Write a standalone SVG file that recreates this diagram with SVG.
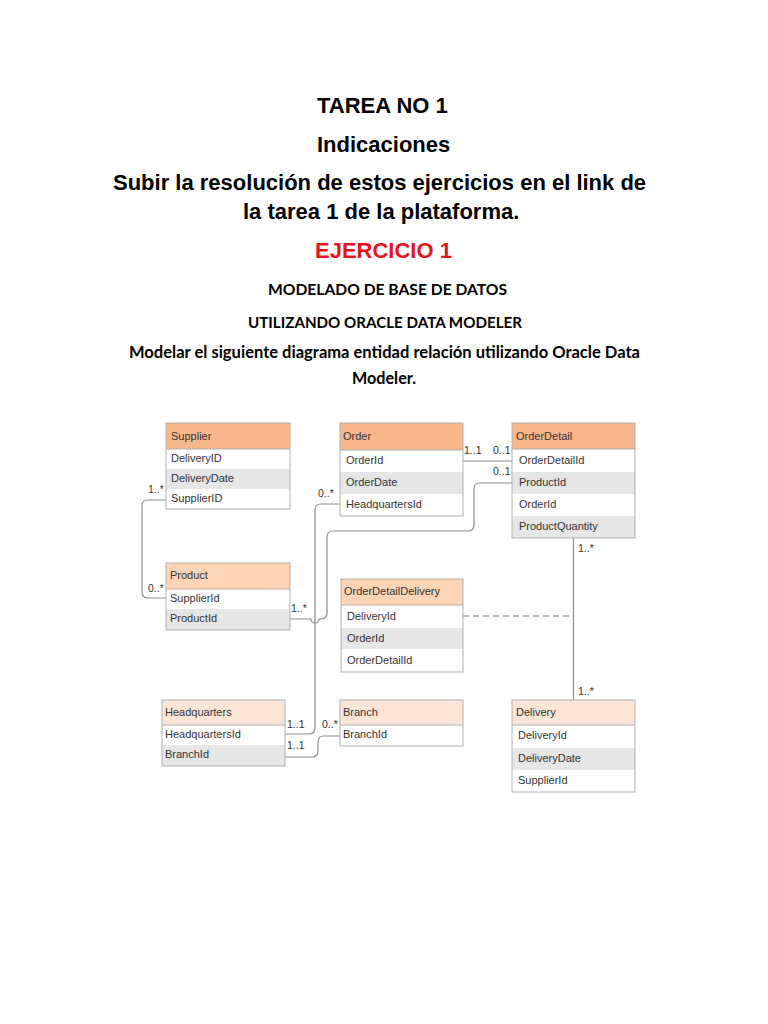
<svg xmlns="http://www.w3.org/2000/svg" width="768" height="1024" viewBox="0 0 768 1024">
<style>
.t1{font-family:"Liberation Sans",Arial,sans-serif;font-weight:bold;font-size:22px;fill:#000}
.red{fill:#E3151D}
.t2{font-family:Lato,"Open Sans",sans-serif;font-weight:bold;font-size:16px;fill:#000}
.t3{font-family:Lato,"Open Sans",sans-serif;font-weight:bold;font-size:17px;fill:#000}
.tx{font-family:"Liberation Sans",Arial,sans-serif;font-size:11px;fill:#333}
.lb{font-family:"Liberation Sans",Arial,sans-serif;font-size:10.5px;fill:#333}
.box{fill:none;stroke:#AFAFAF;stroke-width:1}
.h1{fill:#F9B88B}
.h2{fill:#FDD4B5}
.h3{fill:#FDE5D6}
.w{fill:#FFFFFF}
.g{fill:#E6E6E6}
.sep{stroke:#AFAFAF;stroke-width:1}
.ln{fill:none;stroke:#8E8E8E;stroke-width:1.2}
.dash{fill:none;stroke:#A0A0A0;stroke-width:1.5;stroke-dasharray:6 4}
</style>
<rect width="768" height="1024" fill="#FFFFFF"/>

<g id="titles">
<text class="t1" x="317" y="113">TAREA NO 1</text>
<text class="t1" x="317" y="152">Indicaciones</text>
<text class="t1" x="113" y="190">Subir la resolución de estos ejercicios en el link de</text>
<text class="t1" x="243" y="219">la tarea 1 de la plataforma.</text>
<text class="t1 red" x="315" y="258">EJERCICIO 1</text>
<text class="t2" x="268" y="295" textLength="239" lengthAdjust="spacingAndGlyphs">MODELADO DE BASE DE DATOS</text>
<text class="t2" x="248" y="328" textLength="274" lengthAdjust="spacingAndGlyphs">UTILIZANDO ORACLE DATA MODELER</text>
<text class="t3" x="129" y="358" textLength="511" lengthAdjust="spacingAndGlyphs">Modelar el siguiente diagrama entidad relación utilizando Oracle Data</text>
<text class="t3" x="352" y="384" textLength="64" lengthAdjust="spacingAndGlyphs">Modeler.</text>
</g>

<g id="connectors">
<path class="ln" d="M166,500 H148 Q142,500 142,506 V592 Q142,598 148,598 H166"/>
<path class="ln" d="M340,504 H321 Q315,504 315,510 V728 Q315,734 309,734 H285"/>
<path class="ln" d="M285,757 H312 Q318,757 318,751 V742 Q318,736 324,736 H340"/>
<path class="ln" d="M290,619 H311 A4,4 0 0 0 319,619 H321 Q327,619 327,613 V537 Q327,531 333,531 H468 Q474,531 474,525 V489 Q474,483 480,483 H512"/>
<path class="ln" d="M463,461 H512"/>
<path class="dash" d="M463,616 H573"/>
<path class="ln" d="M573.5,538 V700"/>
<text class="lb" x="148" y="493">1..*</text>
<text class="lb" x="148" y="592">0..*</text>
<text class="lb" x="318" y="497">0..*</text>
<text class="lb" x="291" y="612">1..*</text>
<text class="lb" x="287" y="728">1..1</text>
<text class="lb" x="287" y="749">1..1</text>
<text class="lb" x="322" y="728">0..*</text>
<text class="lb" x="464" y="454">1..1</text>
<text class="lb" x="493" y="454">0..1</text>
<text class="lb" x="493" y="475">0..1</text>
<text class="lb" x="578" y="552">1..*</text>
<text class="lb" x="578" y="695">1..*</text>
</g>

<g id="Supplier">
<rect class="h1" x="166" y="423" width="124" height="26"/>
<rect class="w" x="166" y="449" width="124" height="20"/>
<rect class="g" x="166" y="469" width="124" height="20"/>
<rect class="w" x="166" y="489" width="124" height="20"/>
<line class="sep" x1="166" y1="449" x2="290" y2="449"/>
<rect class="box" x="166" y="423" width="124" height="86"/>
<text class="tx" x="171" y="440">Supplier</text>
<text class="tx" x="171" y="462">DeliveryID</text>
<text class="tx" x="171" y="482">DeliveryDate</text>
<text class="tx" x="171" y="502">SupplierID</text>
</g>

<g id="Product">
<rect class="h2" x="166" y="563" width="124" height="26"/>
<rect class="w" x="166" y="589" width="124" height="20"/>
<rect class="g" x="166" y="609" width="124" height="21"/>
<line class="sep" x1="166" y1="589" x2="290" y2="589"/>
<rect class="box" x="166" y="563" width="124" height="67"/>
<text class="tx" x="170" y="579">Product</text>
<text class="tx" x="170" y="602">SupplierId</text>
<text class="tx" x="170" y="622">ProductId</text>
</g>

<g id="Order">
<rect class="h1" x="340" y="423" width="123" height="27"/>
<rect class="w" x="340" y="450" width="123" height="22"/>
<rect class="g" x="340" y="472" width="123" height="22"/>
<rect class="w" x="340" y="494" width="123" height="22"/>
<line class="sep" x1="340" y1="450" x2="463" y2="450"/>
<rect class="box" x="340" y="423" width="123" height="93"/>
<text class="tx" x="343" y="440">Order</text>
<text class="tx" x="346" y="464">OrderId</text>
<text class="tx" x="346" y="486">OrderDate</text>
<text class="tx" x="346" y="508">HeadquartersId</text>
</g>

<g id="OrderDetail">
<rect class="h1" x="512" y="423" width="123" height="26"/>
<rect class="w" x="512" y="449" width="123" height="23"/>
<rect class="g" x="512" y="472" width="123" height="22"/>
<rect class="w" x="512" y="494" width="123" height="22"/>
<rect class="g" x="512" y="516" width="123" height="22"/>
<line class="sep" x1="512" y1="449" x2="635" y2="449"/>
<rect class="box" x="512" y="423" width="123" height="115"/>
<text class="tx" x="516" y="440">OrderDetail</text>
<text class="tx" x="519" y="464">OrderDetailId</text>
<text class="tx" x="519" y="486">ProductId</text>
<text class="tx" x="519" y="508">OrderId</text>
<text class="tx" x="519" y="530">ProductQuantity</text>
</g>

<g id="OrderDetailDelivery">
<rect class="h2" x="341" y="579" width="122" height="26"/>
<rect class="w" x="341" y="605" width="122" height="23"/>
<rect class="g" x="341" y="628" width="122" height="21"/>
<rect class="w" x="341" y="649" width="122" height="23"/>
<line class="sep" x1="341" y1="605" x2="463" y2="605"/>
<rect class="box" x="341" y="579" width="122" height="93"/>
<text class="tx" x="344" y="595">OrderDetailDelivery</text>
<text class="tx" x="347" y="620">DeliveryId</text>
<text class="tx" x="347" y="642">OrderId</text>
<text class="tx" x="347" y="664">OrderDetailId</text>
</g>

<g id="Headquarters">
<rect class="h3" x="162" y="700" width="123" height="25"/>
<rect class="w" x="162" y="725" width="123" height="20"/>
<rect class="g" x="162" y="745" width="123" height="21"/>
<line class="sep" x1="162" y1="725" x2="285" y2="725"/>
<rect class="box" x="162" y="700" width="123" height="66"/>
<text class="tx" x="165" y="716">Headquarters</text>
<text class="tx" x="165" y="738">HeadquartersId</text>
<text class="tx" x="165" y="758">BranchId</text>
</g>

<g id="Branch">
<rect class="h3" x="340" y="700" width="123" height="25"/>
<rect class="w" x="340" y="725" width="123" height="21"/>
<line class="sep" x1="340" y1="725" x2="463" y2="725"/>
<rect class="box" x="340" y="700" width="123" height="46"/>
<text class="tx" x="343" y="716">Branch</text>
<text class="tx" x="343" y="738">BranchId</text>
</g>

<g id="Delivery">
<rect class="h3" x="512" y="700" width="123" height="25"/>
<rect class="w" x="512" y="725" width="123" height="23"/>
<rect class="g" x="512" y="748" width="123" height="22"/>
<rect class="w" x="512" y="770" width="123" height="22"/>
<line class="sep" x1="512" y1="725" x2="635" y2="725"/>
<rect class="box" x="512" y="700" width="123" height="92"/>
<text class="tx" x="516" y="716">Delivery</text>
<text class="tx" x="518" y="739">DeliveryId</text>
<text class="tx" x="518" y="762">DeliveryDate</text>
<text class="tx" x="518" y="784">SupplierId</text>
</g>
</svg>
